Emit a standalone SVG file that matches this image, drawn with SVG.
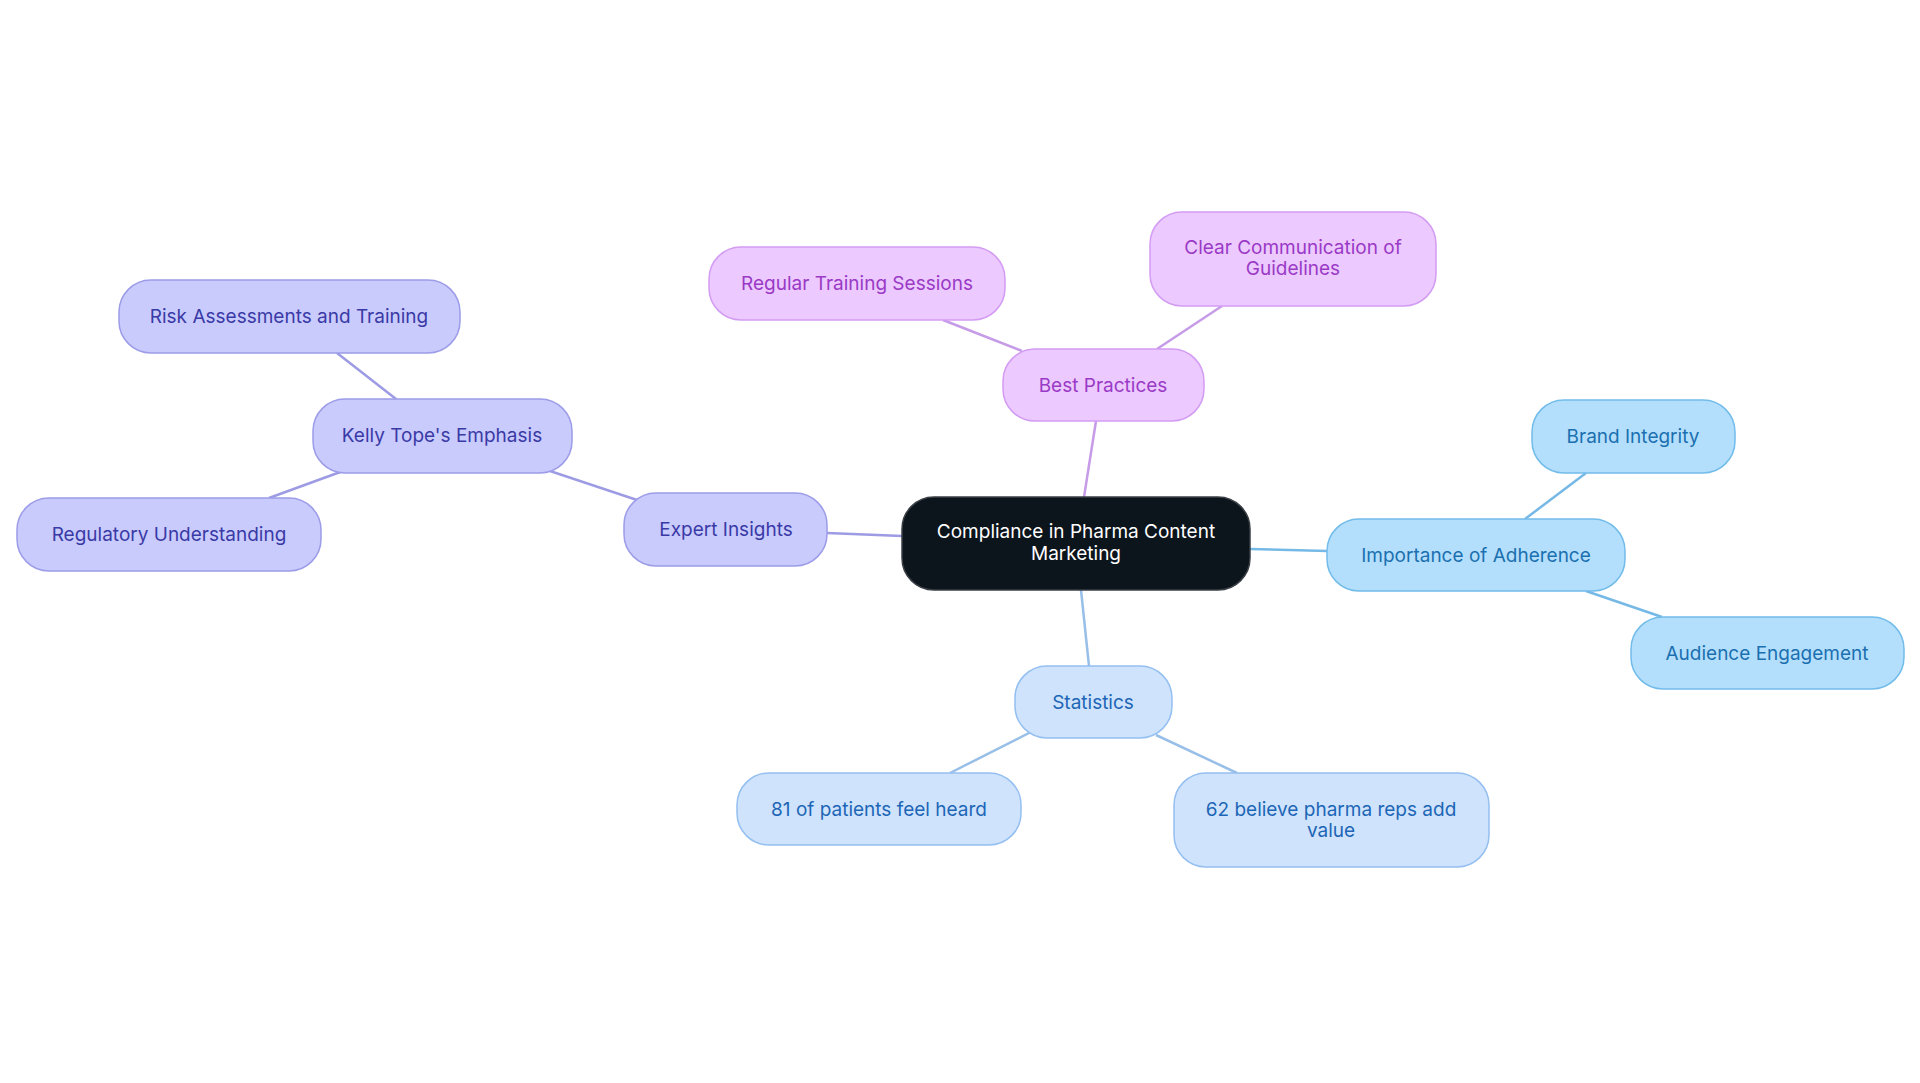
<svg xmlns="http://www.w3.org/2000/svg" width="1920" height="1083" viewBox="0 0 1920 1083">
<style>
text{font-family:Inter,"Noto Sans",sans-serif;font-size:19px;text-anchor:middle;dominant-baseline:central}
.c rect{fill:#0c141c;stroke:#3a3f45;stroke-width:1.5}.c text{fill:#fff}
.p rect{fill:#ecc9fe;stroke:#d39cf3;stroke-width:1.5}.p text{fill:#9a3ac6}
.v rect{fill:#c9cbfd;stroke:#9c9ce8;stroke-width:1.5}.v text{fill:#3a3aa6}
.b rect{fill:#b4dffc;stroke:#72bcea;stroke-width:1.5}.b text{fill:#1a70b0}
.s rect{fill:#cfe3fc;stroke:#94bff0;stroke-width:1.5}.s text{fill:#1d66b6}
#edges line{stroke-width:2.5;fill:none}
</style>
<rect width="1920" height="1083" fill="#fff"/>
<g id="edges">
<line x1="1084" y1="497" x2="1096" y2="421" stroke="#c69be8"/>
<line x1="1022" y1="351" x2="943" y2="320" stroke="#c69be8"/>
<line x1="1157" y1="349" x2="1222" y2="306" stroke="#c69be8"/>
<line x1="902" y1="536" x2="827" y2="533" stroke="#9d9be3"/>
<line x1="637" y1="500" x2="547" y2="470" stroke="#9d9be3"/>
<line x1="396" y1="399" x2="337" y2="353" stroke="#9d9be3"/>
<line x1="343" y1="471" x2="269" y2="498" stroke="#9d9be3"/>
<line x1="1250" y1="549" x2="1327" y2="551" stroke="#76b9e6"/>
<line x1="1525" y1="519" x2="1586" y2="473" stroke="#76b9e6"/>
<line x1="1586" y1="591" x2="1662" y2="617" stroke="#76b9e6"/>
<line x1="1081" y1="590" x2="1089" y2="666" stroke="#98bfe8"/>
<line x1="1031" y1="732" x2="950" y2="773" stroke="#98bfe8"/>
<line x1="1156" y1="735" x2="1237" y2="773" stroke="#98bfe8"/>
</g>
<g id="center" class="c"><rect x="902" y="497" width="348" height="93" rx="32"/><text x="1076" y="531">Compliance in Pharma Content</text><text x="1076" y="553">Marketing</text></g>
<g id="best" class="p"><rect x="1003" y="349" width="201" height="72" rx="32"/><text x="1103" y="385">Best Practices</text></g>
<g id="training" class="p"><rect x="709" y="247" width="296" height="73" rx="32"/><text x="857" y="283">Regular Training Sessions</text></g>
<g id="clear" class="p"><rect x="1150" y="212" width="286" height="94" rx="32"/><text x="1293" y="247">Clear Communication of</text><text x="1293" y="268">Guidelines</text></g>
<g id="expert" class="v"><rect x="624" y="493" width="203" height="73" rx="32"/><text x="726" y="529">Expert Insights</text></g>
<g id="kelly" class="v"><rect x="313" y="399" width="259" height="74" rx="32"/><text x="442" y="435">Kelly Tope's Emphasis</text></g>
<g id="risk" class="v"><rect x="119" y="280" width="341" height="73" rx="32"/><text x="289" y="316">Risk Assessments and Training</text></g>
<g id="regulatory" class="v"><rect x="17" y="498" width="304" height="73" rx="32"/><text x="169" y="534">Regulatory Understanding</text></g>
<g id="importance" class="b"><rect x="1327" y="519" width="298" height="72" rx="32"/><text x="1476" y="555">Importance of Adherence</text></g>
<g id="brand" class="b"><rect x="1532" y="400" width="203" height="73" rx="32"/><text x="1633" y="436">Brand Integrity</text></g>
<g id="audience" class="b"><rect x="1631" y="617" width="273" height="72" rx="32"/><text x="1767" y="653">Audience Engagement</text></g>
<g id="stats" class="s"><rect x="1015" y="666" width="157" height="72" rx="32"/><text x="1093" y="702">Statistics</text></g>
<g id="s81" class="s"><rect x="737" y="773" width="284" height="72" rx="32"/><text x="879" y="809">81 of patients feel heard</text></g>
<g id="s62" class="s"><rect x="1174" y="773" width="315" height="94" rx="32"/><text x="1331" y="809">62 believe pharma reps add</text><text x="1331" y="830">value</text></g>
</svg>
